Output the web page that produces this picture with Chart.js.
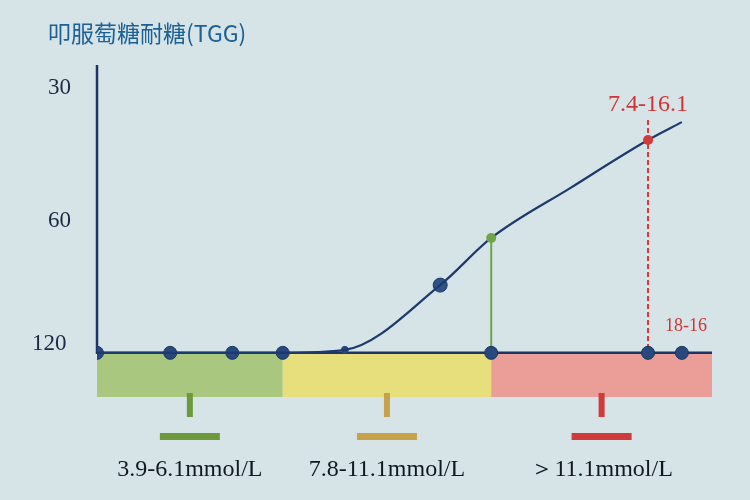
<!DOCTYPE html><html><head><meta charset="utf-8">
<script src="https://cdn.jsdelivr.net/npm/chart.js@4"></script>
<style>html,body{margin:0;background:#d6e3e7;}canvas{display:block}</style></head><body>
<div style="width:750px;height:500px"><canvas id="c"></canvas></div>
<script>
const title = "叩服萄糖耐糖(TGG)";
const curveX = [0, 11.9, 22, 30.2, 40.3, 55.8, 64.1, 77, 89.6, 95.1];
const curveY = [13.3, 13.3, 13.3, 13.3, 14.2, 33.7, 47.9, 63, 77.4, 82.8];
const dotX = [0, 11.9, 22, 30.2, 64.1, 89.6, 95.1];
const dotY = [13.3, 13.3, 13.3, 13.3, 13.3, 13.3, 13.3];
const bigDotX = [55.8]; const bigDotY = [33.7];
const smallDotX = [40.3]; const smallDotY = [14.2];
const yTickVals = [93, 53, 16];
const yTickLabels = ["30", "60", "120"];
const bandStart = [0, 30.2, 64.1];
const bandEnd = [30.2, 64.1, 100];
const bandColors = ["#a9c77e", "#e6df7c", "#eb9d97"];
const markColors = ["#6c9a3a", "#c8a24a", "#d03a3a"];
const bandLabels = ["3.9-6.1mmol/L", "7.8-11.1mmol/L", "＞11.1mmol/L"];
const greenMark = {x: 64.1, y: 47.9};
const redMark = {x: 89.6, y: 77.4, label: "7.4-16.1", label2: "18-16"};
const baseY = 13.3;

const deco = {
 id:'deco',
 beforeDatasetsDraw(ch){
  const c=ch.ctx,x=ch.scales.x,y=ch.scales.y;
  c.save();
  for(let i=0;i<3;i++){
    c.fillStyle=bandColors[i];
    c.fillRect(x.getPixelForValue(bandStart[i]),y.getPixelForValue(baseY),x.getPixelForValue(bandEnd[i])-x.getPixelForValue(bandStart[i]),y.getPixelForValue(0)-y.getPixelForValue(baseY));
  }
  c.strokeStyle="#1c3566";c.lineWidth=2.5;
  c.beginPath();c.moveTo(x.getPixelForValue(0),y.getPixelForValue(100));c.lineTo(x.getPixelForValue(0),y.getPixelForValue(baseY));
  c.lineTo(x.getPixelForValue(100),y.getPixelForValue(baseY));c.stroke();
  c.strokeStyle="#6fa548";c.lineWidth=2;c.beginPath();
  c.moveTo(x.getPixelForValue(greenMark.x),y.getPixelForValue(greenMark.y));c.lineTo(x.getPixelForValue(greenMark.x),y.getPixelForValue(baseY));c.stroke();
  c.strokeStyle="#d23b3b";c.setLineDash([5,3]);c.beginPath();
  c.moveTo(x.getPixelForValue(redMark.x),y.getPixelForValue(redMark.y+6));c.lineTo(x.getPixelForValue(redMark.x),y.getPixelForValue(baseY));c.stroke();c.setLineDash([]);
  c.fillStyle="#1b2a44";c.font="23px 'Liberation Serif'";c.textAlign="left";c.textBaseline="middle";
  yTickVals.forEach((v,i)=>c.fillText(yTickLabels[i],i==2?32:48,y.getPixelForValue(v)));
  c.textAlign="center";c.font="24px 'Liberation Serif'";
  for(let i=0;i<3;i++){
    const cx=(x.getPixelForValue(bandStart[i])+x.getPixelForValue(bandEnd[i]))/2;
    c.fillStyle=markColors[i];
    c.fillRect(cx-3,393,6,24);
    c.fillRect(cx-30,433,60,7);
    c.fillStyle="#111822";c.fillText(bandLabels[i],cx,470);
  }
  c.textAlign="left";c.fillStyle="#1b6096";c.font="23px 'Noto Sans CJK SC'";c.fillText(title,48,33);
  c.fillStyle="#cf3535";c.font="24px 'Liberation Serif'";c.textAlign="center";
  c.fillText(redMark.label,x.getPixelForValue(redMark.x),105);
  c.font="18px 'Liberation Serif'";c.fillText(redMark.label2,x.getPixelForValue(redMark.x)+38,326);
  c.restore();
 },
 afterDatasetsDraw(ch){
  const c=ch.ctx,x=ch.scales.x,y=ch.scales.y;
  c.save();
  c.fillStyle="#6fa548";c.beginPath();c.arc(x.getPixelForValue(greenMark.x),y.getPixelForValue(greenMark.y),5,0,7);c.fill();
  c.fillStyle="#d23b3b";c.beginPath();c.arc(x.getPixelForValue(redMark.x),y.getPixelForValue(redMark.y),5,0,7);c.fill();
  c.restore();
 }
};
const pts=(xs,ys)=>xs.map((v,i)=>({x:v,y:ys[i]}));
new Chart(document.getElementById('c'),{
 type:'scatter',
 data:{datasets:[
  {type:'line',data:pts(curveX,curveY),borderColor:'#1c3a6e',borderWidth:2.2,cubicInterpolationMode:'monotone',pointRadius:0,fill:false},
  {data:pts(dotX,dotY),pointRadius:6.5,backgroundColor:'#27497d',borderColor:'#1b355f',borderWidth:1},
  {data:pts(bigDotX,bigDotY),pointRadius:7,backgroundColor:'#2d5287',borderColor:'#1b355f'},
  {data:pts(smallDotX,smallDotY),pointRadius:3.5,backgroundColor:'#27497d',borderColor:'#27497d'}
 ]},
 options:{responsive:true,maintainAspectRatio:false,animation:false,
  layout:{padding:{left:97,right:38,top:65,bottom:103}},
  plugins:{legend:{display:false},tooltip:{enabled:false}},
  scales:{x:{type:'linear',min:0,max:100,display:false},y:{min:0,max:100,display:false}}},
 plugins:[deco]
});
</script></body></html>
